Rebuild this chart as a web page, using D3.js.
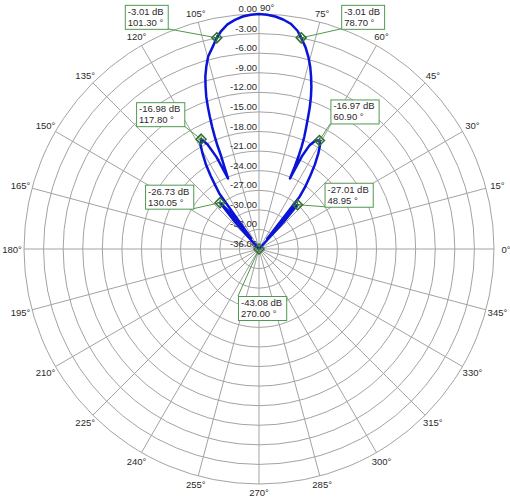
<!DOCTYPE html>
<html>
<head>
<meta charset="utf-8">
<script src="https://cdn.jsdelivr.net/npm/d3@7"></script>
<style>
    html, body { margin: 0; padding: 0; background: #fff; }
    svg text { font-family: "Liberation Sans", Arial, sans-serif; fill: #2a2a2a; }
</style>
</head>
<body>
<svg id="chart" width="510" height="500"></svg>
<script>
    "use strict";

    // radiation pattern, angle in degrees (0 = right, counter clockwise)
    var patternAngles = [0, 20, 40, 44, 46.3, 47.6, 48.95, 50, 51.3, 52.2, 53.5, 55, 56.5, 58.2, 59.5, 60.9,
        62.5, 64, 65.2, 66.3, 66.5, 66.9, 67.4, 68, 68.8, 69.6, 70.3, 71.2, 72.1, 73.2, 74.3, 75.6, 77,
        78.7, 80, 82, 84, 86, 88, 90, 92, 94, 96, 98, 100, 101.3, 103, 104.8, 106.1, 107.3, 108.2, 109.1,
        109.8, 110.4, 111, 111.5, 111.9, 112.2, 112.9, 113.7, 114.8, 116.2, 117.8, 119.3, 120.6, 122.2,
        123.5, 124.6, 125.6, 126.6, 128.3, 130.05, 131.6, 133, 140, 160, 200, 240, 270, 300, 340, 360];
    var patternDb = [-40, -39, -38.2, -37.5, -37, -30.5, -27.01, -28.5, -34, -25.8, -24, -22.3, -20.5, -18.75, -17.6, -16.97,
        -17.25, -18.3, -20.4, -24.2, -22.4, -20.6, -19, -17.5, -16, -14.4, -12.9, -11.3, -9.9, -8.4, -7, -5.6, -4.3,
        -3.01, -2.05, -1.15, -0.65, -0.3, -0.08, 0, -0.08, -0.3, -0.7, -1.25, -2.2, -3.01, -4.3, -5.5, -6.9, -8.35, -9.8, -11.3,
        -12.9, -14.4, -16, -17.5, -19, -20.7, -22.5, -24.2, -20.5, -18.1, -16.98, -17.7, -19, -20.8,
        -22.6, -24.3, -25.6, -34, -29, -26.73, -30.5, -37, -38.5, -40, -41.5, -42.6, -43.08, -42.4, -40.8, -40];

    // marker readouts
    var markerAngles = [101.30, 78.70, 117.80, 60.90, 130.05, 48.95, 270.00];
    var markerDb = [-3.01, -3.01, -16.98, -16.97, -26.73, -27.01, -43.08];

    // grid
    var ringDb = d3.range(0, -37, -3);
    var spokeAngles = d3.range(0, 360, 15);

    // where the readout boxes sit, relative to their marker (px)
    var boxOffsets = [[-92, -33], [40, -33], [-65, -37], [11, -41], [-75, -18], [27, -22], [-21, 47]];

    var cx = 259, cy = 249, R = 235;
    var svg = d3.select("#chart");

    var r = d3.scaleLinear().domain([-36, 0]).range([0, R]).clamp(true);
    var rad = function (a) { return a * Math.PI / 180; };
    var px = function (a, db) { return cx + r(db) * Math.cos(rad(a)); };
    var py = function (a, db) { return cy - r(db) * Math.sin(rad(a)); };
    // plain hyphen, like the original readouts
    var fmt = function (v) { return v.toFixed(2); };

    var grid = svg.append("g").attr("stroke", "#a3a3a3").attr("fill", "none").attr("stroke-width", 1);

    grid.selectAll("circle")
        .data(ringDb.filter(function (d) { return d > -36; }))
        .enter().append("circle")
        .attr("cx", cx).attr("cy", cy)
        .attr("r", function (d) { return r(d); });

    grid.selectAll("line")
        .data(spokeAngles)
        .enter().append("line")
        .attr("x1", cx).attr("y1", cy)
        .attr("x2", function (a) { return px(a, 0); })
        .attr("y2", function (a) { return py(a, 0); });

    // dB labels along the 90 degree spoke
    svg.append("g").selectAll("text")
        .data(ringDb)
        .enter().append("text")
        .attr("x", cx - 2)
        .attr("y", function (d) { return cy - r(d) - 2; })
        .attr("text-anchor", "end")
        .attr("font-size", "9.5px")
        .text(function (d) { return fmt(d); });

    // angle labels around the outside
    svg.append("g").selectAll("text")
        .data(spokeAngles)
        .enter().append("text")
        .attr("font-size", "9.5px")
        .attr("dominant-baseline", "central")
        .attr("text-anchor", function (a) { return a === 90 ? "start" : "middle"; })
        .attr("x", function (a) {
            if (a === 90) { return cx + 1; }
            return cx + (R + 8 + 4 * Math.abs(Math.cos(rad(a)))) * Math.cos(rad(a));
        })
        .attr("y", function (a) {
            if (a === 90) { return cy - R - 7; }
            return cy - (R + 8 + 4 * Math.abs(Math.cos(rad(a)))) * Math.sin(rad(a));
        })
        .text(function (a) { return a + "°"; });

    // pattern trace
    var line = d3.line()
        .x(function (i) { return px(patternAngles[i], patternDb[i]); })
        .y(function (i) { return py(patternAngles[i], patternDb[i]); });

    svg.append("path")
        .attr("d", line(d3.range(patternAngles.length)))
        .attr("fill", "none")
        .attr("stroke", "#0a14d6")
        .attr("stroke-width", 2.5)
        .attr("stroke-linejoin", "round");

    // readout boxes with leader lines
    var green = "#4f9a4f";
    var boxes = svg.append("g");
    markerAngles.forEach(function (a, i) {
        var mx = px(a, markerDb[i]), my = py(a, markerDb[i]);
        var bx = mx + boxOffsets[i][0], by = my + boxOffsets[i][1];
        var g = boxes.append("g");
        var lead = g.append("line").attr("stroke", green).attr("stroke-width", 1);
        var rect = g.append("rect").attr("fill", "#fff").attr("stroke", green).attr("stroke-width", 1);
        var t1 = g.append("text").attr("font-size", "9.5px").attr("x", bx + 3).attr("y", by + 10)
            .text(fmt(markerDb[i]) + " dB");
        var t2 = g.append("text").attr("font-size", "9.5px").attr("x", bx + 3).attr("y", by + 21)
            .text(fmt(a) + " °");
        var w = Math.max(t1.node().getComputedTextLength(), t2.node().getComputedTextLength()) + 7;
        var h = 24;
        rect.attr("x", bx + 0.5).attr("y", by + 0.5).attr("width", w).attr("height", h);

        // leader goes to the box corner closest to the marker
        var corners = [[bx, by], [bx + w, by], [bx, by + h], [bx + w, by + h]];
        var c = d3.least(corners, function (p) { return (p[0] - mx) * (p[0] - mx) + (p[1] - my) * (p[1] - my); });
        lead.attr("x1", mx).attr("y1", my).attr("x2", c[0]).attr("y2", c[1]);
    });

    // markers on top of the trace
    var marks = svg.append("g").attr("stroke", "#2d6e2d").attr("stroke-width", 1.5).attr("fill", "none");
    markerAngles.forEach(function (a, i) {
        var mx = px(a, markerDb[i]), my = py(a, markerDb[i]);
        marks.append("path")
            .attr("d", "M" + mx + "," + (my - 5) + "L" + (mx + 5) + "," + my + "L" + mx + "," + (my + 5) +
                "L" + (mx - 5) + "," + my + "Z");
        marks.append("path")
            .attr("stroke-width", 1)
            .attr("d", "M" + (mx - 3) + "," + my + "H" + (mx + 3) + "M" + mx + "," + (my - 3) + "V" + (my + 3));
    });
</script>
</body>
</html>
